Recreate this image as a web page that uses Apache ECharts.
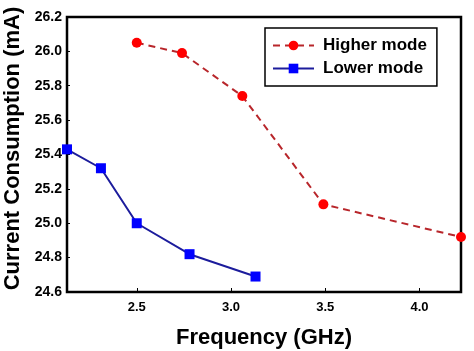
<!DOCTYPE html>
<html>
<head>
<meta charset="utf-8">
<script src="https://cdn.jsdelivr.net/npm/echarts@6/dist/echarts.min.js"></script>
<style>
  html, body { margin: 0; padding: 0; background: #fff; }
  #chart { width: 474px; height: 351px; }
</style>
</head>
<body>
<div id="chart"></div>
<script>
  // values
  const higherFreq = [2.50, 2.74, 3.06, 3.49, 4.22];
  const higherCurrent = [26.05, 25.99, 25.74, 25.11, 24.92];
  const lowerFreq = [2.13, 2.31, 2.50, 2.78, 3.13];
  const lowerCurrent = [25.43, 25.32, 25.00, 24.82, 24.69];
  const xTicks = [2.5, 3.0, 3.5, 4.0];

  const font = '"Liberation Sans", Arial, sans-serif';

  function pairs(xs, ys) {
    return xs.map((x, i) => [x, ys[i]]);
  }

  const chart = echarts.init(document.getElementById('chart'));
  const option = {
    animation: false,
    grid: {
      left: 67, right: 13, top: 17, bottom: 59,
      outerBoundsMode: 'none',
      show: true,
      borderColor: '#000',
      borderWidth: 2.5
    },
    legend: {
      orient: 'vertical',
      left: 265,
      top: 28,
      borderColor: '#000',
      borderWidth: 1.5,
      padding: [9, 10, 9, 7],
      itemGap: 6,
      itemWidth: 41,
      itemHeight: 12,
      textStyle: { fontFamily: font, fontWeight: 'bold', fontSize: 17, color: '#000', padding: [0, 0, 0, 4] },
      data: ['Higher mode', 'Lower mode']
    },
    xAxis: {
      type: 'value',
      min: 2.13,
      max: 4.22,
      name: 'Frequency (GHz)',
      nameLocation: 'middle',
      nameGap: 35,
      nameTextStyle: { fontFamily: font, fontWeight: 'bold', fontSize: 22, color: '#000' },
      axisLine: { show: false },
      splitLine: { show: false },
      axisTick: { show: true, inside: true, length: 4, customValues: xTicks, lineStyle: { color: '#000' } },
      axisLabel: {
        customValues: xTicks,
        margin: 9,
        fontFamily: font, fontWeight: 'bold', fontSize: 13, color: '#000',
        formatter: v => v.toFixed(1)
      }
    },
    yAxis: {
      type: 'value',
      min: 24.6,
      max: 26.2,
      interval: 0.2,
      name: 'Current Consumption (mA)',
      nameLocation: 'middle',
      nameGap: 40,
      nameTextStyle: { fontFamily: font, fontWeight: 'bold', fontSize: 22, color: '#000', padding: [0, 0, 0, 12] },
      axisLine: { show: false },
      splitLine: { show: false },
      axisTick: { show: true, inside: true, length: 3, lineStyle: { color: '#000' } },
      axisLabel: {
        margin: 5,
        fontFamily: font, fontWeight: 'bold', fontSize: 14, color: '#000',
        formatter: v => v.toFixed(1)
      }
    },
    series: [
      {
        name: 'Higher mode',
        type: 'line',
        data: pairs(higherFreq, higherCurrent),
        symbol: 'circle',
        symbolSize: 10,
        itemStyle: { color: '#ff0000' },
        lineStyle: { color: '#b8262b', width: 2, type: [7, 5] },
        clip: false
      },
      {
        name: 'Lower mode',
        type: 'line',
        data: pairs(lowerFreq, lowerCurrent),
        symbol: 'rect',
        symbolSize: 10,
        itemStyle: { color: '#0000ff' },
        lineStyle: { color: '#1c1c9c', width: 2 },
        clip: false
      }
    ]
  };
  chart.setOption(option);
</script>
</body>
</html>
